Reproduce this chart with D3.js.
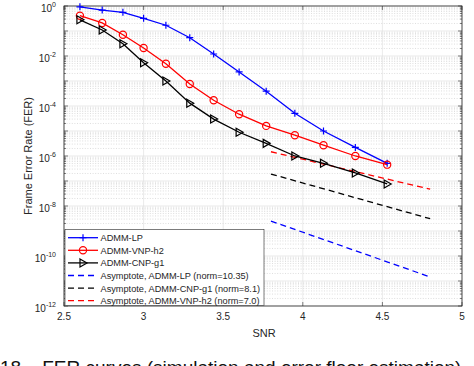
<!DOCTYPE html>
<html>
<head>
<meta charset="utf-8">
<script src="https://cdn.jsdelivr.net/npm/d3@7"></script>
<style>
  body { margin: 0; background: #fff; }
  text { font-family: "Liberation Sans", Arial, sans-serif; }
</style>
</head>
<body>
<script>
// SNR points shared by the simulated curves
const snr = [2.6, 2.74, 2.87, 3.0, 3.14, 3.29, 3.44, 3.6, 3.77, 3.95, 4.13, 4.33, 4.53];
const ferLP  = [0.93, 0.69, 0.56, 0.32, 0.17, 5.4e-2, 1.2e-2, 2.3e-3, 3.9e-4, 5.1e-5, 1.0e-5, 2.2e-6, 5.1e-7];
const ferVNP = [0.41, 0.21, 7.1e-2, 2.1e-2, 4.9e-3, 7.6e-4, 1.7e-4, 4.7e-5, 1.6e-5, 6.8e-6, 2.7e-6, 1.0e-6, 4.5e-7];
const ferCNP = [0.28, 0.11, 3.1e-2, 5.4e-3, 1.0e-3, 1.3e-4, 3.0e-5, 8.9e-6, 3.2e-6, 1.0e-6, 5.1e-7, 2.1e-7, 7.6e-8];

// asymptote end points
const asymSnr = [3.8, 4.8];
const asymLP  = [2.5e-9, 1.45e-11];
const asymCNP = [1.9e-7, 3.1e-9];
const asymVNP = [1.48e-6, 4.7e-8];

const xTicks = [2.5, 3, 3.5, 4, 4.5, 5];
const yLabelExps = [0, -2, -4, -6, -8, -10, -12];

const legendLabels = [
  "ADMM-LP",
  "ADMM-VNP-h2",
  "ADMM-CNP-g1",
  "Asymptote, ADMM-LP (norm=10.35)",
  "Asymptote, ADMM-CNP-g1 (norm=8.1)",
  "Asymptote, ADMM-VNP-h2 (norm=7.0)"
];

const w = 474, h = 366;
const pLeft = 64, pRight = 462, pTop = 6, pBottom = 306;
const axisCol = "#262626";

const svg = d3.select("body").append("svg")
  .attr("width", w)
  .attr("height", h);

const x = d3.scaleLinear().domain([2.5, 5]).range([pLeft, pRight]);
const y = d3.scaleLog().domain([1e-12, 1]).range([pBottom, pTop]);

// grid
const grid = svg.append("g");
const decades = d3.range(-12, 1);
const minors = [];
decades.slice(0, -1).forEach(e => {
  for (let k = 2; k <= 9; k++) minors.push(k * Math.pow(10, e));
});
grid.selectAll(".ymin").data(minors).enter().append("line")
  .attr("x1", pLeft).attr("x2", pRight)
  .attr("y1", d => y(d)).attr("y2", d => y(d))
  .attr("stroke", "#c8c8c8").attr("stroke-width", 0.6)
  .attr("stroke-dasharray", "1,1.6");
grid.selectAll(".ymaj").data(decades).enter().append("line")
  .attr("x1", pLeft).attr("x2", pRight)
  .attr("y1", d => y(Math.pow(10, d))).attr("y2", d => y(Math.pow(10, d)))
  .attr("stroke", "#dcdcdc").attr("stroke-width", 0.6);
grid.selectAll(".xmaj").data(xTicks).enter().append("line")
  .attr("x1", d => x(d)).attr("x2", d => x(d))
  .attr("y1", pTop).attr("y2", pBottom)
  .attr("stroke", "#dcdcdc").attr("stroke-width", 0.6);

// box + ticks
svg.append("rect")
  .attr("x", pLeft).attr("y", pTop)
  .attr("width", pRight - pLeft).attr("height", pBottom - pTop)
  .attr("fill", "none").attr("stroke", axisCol).attr("stroke-width", 0.8);

const ticks = svg.append("g").attr("stroke", axisCol).attr("stroke-width", 0.6);
xTicks.forEach(t => {
  ticks.append("line").attr("x1", x(t)).attr("x2", x(t)).attr("y1", pBottom).attr("y2", pBottom - 4);
  ticks.append("line").attr("x1", x(t)).attr("x2", x(t)).attr("y1", pTop).attr("y2", pTop + 4);
});
decades.forEach(e => {
  const yy = y(Math.pow(10, e));
  ticks.append("line").attr("x1", pLeft).attr("x2", pLeft + 4).attr("y1", yy).attr("y2", yy);
  ticks.append("line").attr("x1", pRight).attr("x2", pRight - 4).attr("y1", yy).attr("y2", yy);
});
minors.forEach(m => {
  const yy = y(m);
  ticks.append("line").attr("x1", pLeft).attr("x2", pLeft + 2).attr("y1", yy).attr("y2", yy);
  ticks.append("line").attr("x1", pRight).attr("x2", pRight - 2).attr("y1", yy).attr("y2", yy);
});

// tick labels
svg.selectAll(".xl").data(xTicks).enter().append("text")
  .attr("x", d => x(d)).attr("y", 320)
  .attr("text-anchor", "middle")
  .attr("font-size", 10).attr("fill", axisCol)
  .text(d => d);

const yl = svg.selectAll(".yl").data(yLabelExps).enter().append("text")
  .attr("x", 56).attr("y", d => y(Math.pow(10, d)) + 6)
  .attr("text-anchor", "end")
  .attr("font-size", 10).attr("fill", axisCol);
yl.append("tspan").text("10");
yl.append("tspan").attr("dy", -5).attr("font-size", 7).text(d => d);

svg.append("text")
  .attr("x", 264).attr("y", 337)
  .attr("text-anchor", "middle")
  .attr("font-size", 11).attr("fill", axisCol)
  .text("SNR");

svg.append("text")
  .attr("transform", `translate(32,${(pTop + pBottom) / 2}) rotate(-90)`)
  .attr("text-anchor", "middle")
  .attr("font-size", 11).attr("fill", axisCol)
  .text("Frame Error Rate (FER)");

// curves
const line = d3.line().x(d => x(d[0])).y(d => y(d[1]));
const series = [
  { vals: ferLP, color: "#0000ff", marker: "plus" },
  { vals: ferVNP, color: "#ff0000", marker: "circle" },
  { vals: ferCNP, color: "#000000", marker: "tri" }
];
const asym = [
  { vals: asymLP, color: "#0000ff" },
  { vals: asymCNP, color: "#000000" },
  { vals: asymVNP, color: "#ff0000" }
];

const plot = svg.append("g");

asym.forEach(a => {
  plot.append("path")
    .datum(asymSnr.map((s, i) => [s, a.vals[i]]))
    .attr("d", line)
    .attr("fill", "none").attr("stroke", a.color)
    .attr("stroke-width", 1.3).attr("stroke-dasharray", "6,4");
});

const drawMarker = (g, kind, color, cx, cy) => {
  if (kind === "plus") {
    g.append("path").attr("d", `M${cx - 3.5},${cy}H${cx + 3.5}M${cx},${cy - 3.5}V${cy + 3.5}`)
      .attr("stroke", color).attr("stroke-width", 1.2).attr("fill", "none");
  } else if (kind === "circle") {
    g.append("circle").attr("cx", cx).attr("cy", cy).attr("r", 3.6)
      .attr("stroke", color).attr("stroke-width", 1.2).attr("fill", "none");
  } else {
    g.append("path").attr("d", `M${cx - 3},${cy - 4}L${cx + 4},${cy}L${cx - 3},${cy + 4}Z`)
      .attr("stroke", color).attr("stroke-width", 1.2).attr("fill", "none");
  }
};

series.forEach(s => {
  const pts = snr.map((v, i) => [v, s.vals[i]]);
  plot.append("path").datum(pts).attr("d", line)
    .attr("fill", "none").attr("stroke", s.color).attr("stroke-width", 1.3);
  pts.forEach(p => drawMarker(plot, s.marker, s.color, x(p[0]), y(p[1])));
});

// legend
const lg = svg.append("g");
lg.append("rect")
  .attr("x", 65).attr("y", 229.5)
  .attr("width", 199).attr("height", 76)
  .attr("fill", "#fff").attr("stroke", axisCol).attr("stroke-width", 0.6);

const legendItems = [
  { color: "#0000ff", marker: "plus", dash: null },
  { color: "#ff0000", marker: "circle", dash: null },
  { color: "#000000", marker: "tri", dash: null },
  { color: "#0000ff", marker: null, dash: "6,4" },
  { color: "#000000", marker: null, dash: "6,4" },
  { color: "#ff0000", marker: null, dash: "6,4" }
];
legendItems.forEach((it, i) => {
  const ly = 237.7 + i * 12.6;
  lg.append("line")
    .attr("x1", 68).attr("x2", 98).attr("y1", ly).attr("y2", ly)
    .attr("stroke", it.color).attr("stroke-width", 1.3)
    .attr("stroke-dasharray", it.dash);
  if (it.marker) drawMarker(lg, it.marker, it.color, 83, ly);
  lg.append("text")
    .attr("x", 100.5).attr("y", ly + 3.4)
    .attr("font-size", 9.2).attr("fill", axisCol)
    .text(legendLabels[i]);
});

// caption, cut by the page bottom as in the source figure
svg.append("text")
  .attr("x", 0).attr("y", 373.5)
  .attr("font-family", "'Liberation Serif', 'Times New Roman', serif")
  .attr("font-size", 19).attr("fill", "#111")
  .style("white-space", "pre")
  .text("18.   FER curves (simulation and error floor estimation)");
</script>
</body>
</html>
